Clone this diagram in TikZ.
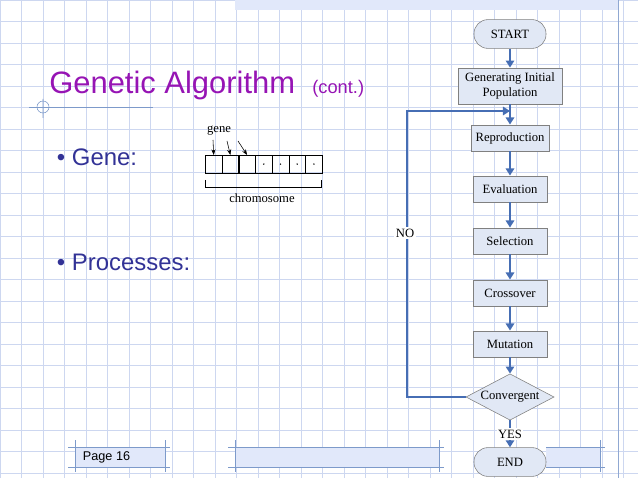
\documentclass[tikz,border=0pt]{standalone}
\usepackage{fontspec}
\setmainfont{Liberation Serif}
\newfontfamily\slidefont{Liberation Sans}
\usetikzlibrary{
  shapes.geometric,
  positioning,
  calc,
  arrows.meta}
\definecolor{gridcolor}{RGB}{205,215,240}
\definecolor{bandcolor}{RGB}{225,232,250}
\definecolor{boxcolor}{RGB}{225,232,245}
\definecolor{titlecolor}{RGB}{150,20,180}
\definecolor{bulletcolor}{RGB}{50,50,150}
\definecolor{flowcolor}{RGB}{70,110,180}
\tikzset{
  %% terminal : start and end of the flow
  terminal/.style={
    rectangle,
    rounded corners=0.35cm,
    draw=gray,
    fill=boxcolor,
    minimum width=1.8cm,
    minimum height=0.72cm,
    font=\small,
    align=center
  },
  %% process : a step of the algorithm
  process/.style={
    rectangle,
    draw=gray,
    fill=boxcolor,
    minimum width=1.85cm,
    minimum height=0.66cm,
    font=\small,
    align=center
  },
  %% decision : the convergence test
  decision/.style={
    diamond,
    aspect=1.9,
    draw=gray,
    fill=boxcolor,
    inner sep=1pt,
    font=\small
  },
  %% flow : connector between steps
  flow/.style={flowcolor, very thick, -{Triangle[length=5pt,width=6pt]}},
  %% cell : one gene of the chromosome
  cell/.style={
    rectangle,
    draw=black,
    minimum width=0.42cm,
    minimum height=0.44cm,
    inner sep=0pt
  }
}

\begin{document}
\begin{tikzpicture}
  [x=0.025cm,
  y=-0.025cm]

  %% Background
  \useasboundingbox (0,0) rectangle (638,478);
  \foreach \x in {0,21.5,...,638} \draw[gridcolor] (\x,0) -- (\x,478);
  \foreach \y in {0,21.5,...,478} \draw[gridcolor] (0,\y) -- (638,\y);
  \fill[bandcolor] (235,0) rectangle (618,10);
  \draw[flowcolor!60] (618,0) -- (618,478);

  %% Footer
  \fill[bandcolor] (75,447) rectangle (165,467);
  \fill[bandcolor] (235,447) rectangle (439,467);
  \fill[bandcolor] (546,447) rectangle (600,467);
  \draw[flowcolor!70] (68,447) -- (170,447) (68,467) -- (170,467)
    (75,440) -- (75,472) (165,440) -- (165,472);
  \draw[flowcolor!70] (228,447) -- (444,447) (228,467) -- (444,467)
    (235,440) -- (235,472) (439,440) -- (439,472);
  \draw[flowcolor!70] (546,447) -- (605,447) (546,467) -- (605,467)
    (600,440) -- (600,472);
  \node (page) [anchor=west, font=\slidefont\small] at (78,457) {Page 16};

  %% Title
  \node (title) [anchor=base west, text=titlecolor, font=\slidefont\fontsize{22}{24}\selectfont,
    inner sep=0pt] at (49,94) {Genetic Algorithm\ \ \fontsize{13}{15}\selectfont(cont.)};
  \draw[flowcolor!70] (29,107) -- (153,107);
  \draw[flowcolor!70] (43,107) circle (6) (43,99) -- (43,118);

  %% Bullets
  \node (gene) [anchor=west, text=bulletcolor, font=\slidefont\fontsize{17}{19}\selectfont] at (52,157) {\textbullet\ Gene:};
  \node (proc) [anchor=west, text=bulletcolor, font=\slidefont\fontsize{17}{19}\selectfont] at (52,262) {\textbullet\ Processes:};

  %% Chromosome
  \foreach \i in {0,...,6}
    \node (c\i) [cell, anchor=north west] at (205+16.7*\i,155) {};
  \foreach \i in {3,...,6}
    \fill (c\i) circle (0.8);
  \node (genelabel) [font=\small] at (219,131) {gene};
  \draw[-{Stealth[length=4pt]}] (213,140) -- (c0.north);
  \draw[-{Stealth[length=4pt]}] (227,141) -- (c1.north);
  \draw[-{Stealth[length=4pt]}] (238,141) -- (c2.north);
  \draw (205,180) -- (205,187) -- (321,187) -- (321,180);
  \node (chromlabel) [font=\small] at (262,198) {chromosome};

  %% Flowchart
  \node (start) [terminal] at (510,34) {START};
  \node (init) [process, minimum width=2.6cm, minimum height=0.8cm] at (510,86) {Generating Initial\\Population};
  \node (repro) [process] at (510,138) {Reproduction};
  \node (eval) [process] at (510,189) {Evaluation};
  \node (select) [process] at (510,241) {Selection};
  \node (cross) [process] at (510,293) {Crossover};
  \node (mut) [process] at (510,344) {Mutation};
  \node (conv) [decision] at (510,397) {Convergent};
  \node (stop) [terminal] at (510,462) {END};

  \draw[flow] (start) -- (init);
  \draw[flow] (init) -- (repro);
  \draw[flow] (repro) -- (eval);
  \draw[flow] (eval) -- (select);
  \draw[flow] (select) -- (cross);
  \draw[flow] (cross) -- (mut);
  \draw[flow] (mut) -- (conv);
  \draw[flow] (conv) -- node[fill=white, font=\small, inner sep=1pt, text=black] {YES} (stop);

  %% Loop back
  \coordinate (loop) at (510,111);
  \draw[flow] (conv.west) -| (407,111) -- (loop);
  \node (no) [font=\small, fill=white, inner sep=1pt] at (405,233) {NO};

\end{tikzpicture}
\end{document}
